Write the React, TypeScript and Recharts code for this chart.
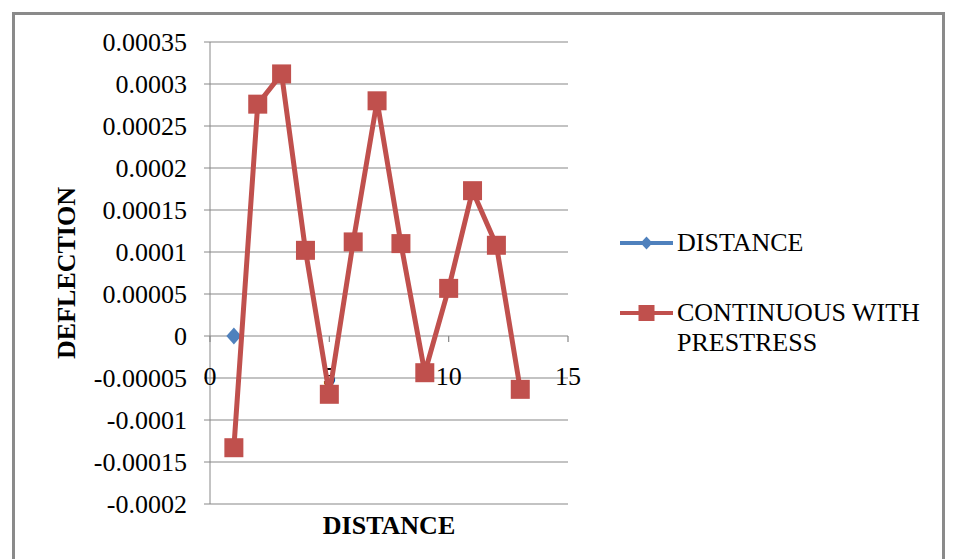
import React from 'react';
import {
  ScatterChart,
  Scatter,
  XAxis,
  YAxis,
  CartesianGrid,
  ReferenceDot,
} from 'recharts';

// distance along the member (x) and measured deflection (y)
const distance = [1, 2, 3, 4, 5, 6, 7, 8, 9, 10, 11, 12, 13];
const prestressDeflection = [
  -0.000133, 0.000276, 0.000312, 0.000102, -0.0000694, 0.000112, 0.00028,
  0.00011, -0.0000437, 0.0000567, 0.000173, 0.000108, -0.0000635,
];

// the "DISTANCE" series only has a single point sitting on zero
const distanceSeriesX = [1];
const distanceSeriesY = [0];

const yTicks = [
  -0.0002, -0.00015, -0.0001, -0.00005, 0, 0.00005, 0.0001, 0.00015, 0.0002,
  0.00025, 0.0003, 0.00035,
];
const yTickLabels = [
  '-0.0002', '-0.00015', '-0.0001', '-0.00005', '0', '0.00005', '0.0001',
  '0.00015', '0.0002', '0.00025', '0.0003', '0.00035',
];
const xTicks = [0, 5, 10, 15];
const xTickLabels = ['0', '5', '10', '15'];

const RED = '#C0504D';
const BLUE = '#4F81BD';
const GRID = '#888888';
const FONT = '"Liberation Serif", "Times New Roman", serif';

const prestressData = distance.map((x, i) => ({ x, y: prestressDeflection[i] }));
const distanceData = distanceSeriesX.map((x, i) => ({ x, y: distanceSeriesY[i] }));

function yLabel(v: number): string {
  let best = 0;
  yTicks.forEach((t, i) => {
    if (Math.abs(t - v) < Math.abs(yTicks[best] - v)) best = i;
  });
  return yTickLabels[best];
}

const SquareMarker = (p: any) => {
  if (p.cx == null || p.cy == null) return null;
  const s = 19;
  return <rect x={p.cx - s / 2} y={p.cy - s / 2} width={s} height={s} fill={RED} />;
};

const DiamondMarker = (p: any) => {
  if (p.cx == null || p.cy == null) return null;
  const w = 7.5;
  const h = 8.5;
  return (
    <polygon
      points={`${p.cx},${p.cy - h} ${p.cx + w},${p.cy} ${p.cx},${p.cy + h} ${p.cx - w},${p.cy}`}
      fill={BLUE}
    />
  );
};

// x axis crosses at y = 0, so ticks + labels are hung off the zero line
const xTickShape = (text: string) => (p: any) => (
  <g>
    <line x1={p.cx} y1={p.cy} x2={p.cx} y2={p.cy + 6} stroke={GRID} strokeWidth={1.2} />
    <text
      x={p.cx}
      y={p.cy + 40}
      textAnchor="middle"
      dominantBaseline="central"
      fontFamily={FONT}
      fontSize={26}
      fill="#000"
    >
      {text}
    </text>
  </g>
);

const legendItems = [
  { name: 'DISTANCE', lines: ['DISTANCE'], color: BLUE, marker: 'diamond', top: 228 },
  { name: 'CONTINUOUS WITH PRESTRESS', lines: ['CONTINUOUS WITH', 'PRESTRESS'], color: RED, marker: 'square', top: 298 },
];

function LegendBox() {
  return (
    <div style={{ position: 'absolute', left: 620, top: 0 }}>
      {legendItems.map((it) => (
        <div key={it.name} style={{ position: 'absolute', top: it.top, left: 0, display: 'flex', alignItems: 'flex-start' }}>
          <svg width={54} height={30} style={{ display: 'block' }}>
            <line x1={0} y1={15} x2={53} y2={15} stroke={it.color} strokeWidth={4} />
            {it.marker === 'diamond' ? (
              <polygon points="26.5,8.5 32.5,15 26.5,21.5 20.5,15" fill={it.color} />
            ) : (
              <rect x={18.5} y={7} width={16} height={16} fill={it.color} />
            )}
          </svg>
          <div
            style={{
              marginLeft: 3,
              fontFamily: FONT,
              fontSize: 26,
              lineHeight: '30px',
              color: '#000',
              whiteSpace: 'nowrap',
            }}
          >
            {it.lines.map((l) => (
              <div key={l}>{l}</div>
            ))}
          </div>
        </div>
      ))}
    </div>
  );
}

export default function App() {
  return (
    <div
      style={{
        position: 'absolute',
        left: 0,
        top: 0,
        width: 974,
        height: 559,
        background: '#fff',
        overflow: 'hidden',
      }}
    >
      <div
        style={{
          position: 'absolute',
          left: 12,
          top: 12,
          width: 927,
          height: 560,
          border: '3px solid #8a8a8a',
          borderBottom: 'none',
        }}
      />
      <div style={{ position: 'absolute', left: 0, top: 0 }}>
        <ScatterChart width={974} height={559} margin={{ top: 42, right: 406, bottom: 0, left: 50 }}>
          <CartesianGrid vertical={false} stroke={GRID} strokeWidth={1.2} />
          <XAxis
            type="number"
            dataKey="x"
            domain={[0, 15]}
            ticks={xTicks}
            axisLine={false}
            tick={false}
            tickLine={false}
            height={55}
            label={{
              content: (props: any) => {
                const vb = props.viewBox;
                return (
                  <text
                    x={vb.x + vb.width / 2}
                    y={vb.y + 21}
                    textAnchor="middle"
                    dominantBaseline="central"
                    fontFamily={FONT}
                    fontWeight="bold"
                    fontSize={26}
                    fill="#000"
                  >
                    DISTANCE
                  </text>
                );
              },
            }}
          />
          <YAxis
            type="number"
            dataKey="y"
            domain={[-0.0002, 0.00035]}
            ticks={yTicks}
            interval={0}
            width={160}
            tickSize={6}
            tickMargin={17}
            stroke={GRID}
            tickFormatter={yLabel}
            tick={{ fontFamily: FONT, fontSize: 26, fill: '#000' }}
            label={{
              content: (props: any) => {
                const vb = props.viewBox;
                const cx = vb.x + 16;
                const cy = vb.y + vb.height / 2;
                return (
                  <text
                    x={cx}
                    y={cy}
                    transform={`rotate(-90 ${cx} ${cy})`}
                    textAnchor="middle"
                    dominantBaseline="central"
                    fontFamily={FONT}
                    fontWeight="bold"
                    fontSize={26}
                    fill="#000"
                  >
                    DEFLECTION
                  </text>
                );
              },
            }}
          />
          {xTicks.map((t, i) => (
            <ReferenceDot
              key={t}
              x={t}
              y={0}
              r={1}
              ifOverflow="visible"
              shape={xTickShape(xTickLabels[i])}
            />
          ))}
          <Scatter
            name="DISTANCE"
            data={distanceData}
            fill={BLUE}
            shape={DiamondMarker}
            isAnimationActive={false}
          />
          <Scatter
            name="CONTINUOUS WITH PRESTRESS"
            data={prestressData}
            fill={RED}
            line={{ stroke: RED, strokeWidth: 5 }}
            lineType="joint"
            shape={SquareMarker}
            isAnimationActive={false}
          />
        </ScatterChart>
      </div>
      <LegendBox />
    </div>
  );
}
